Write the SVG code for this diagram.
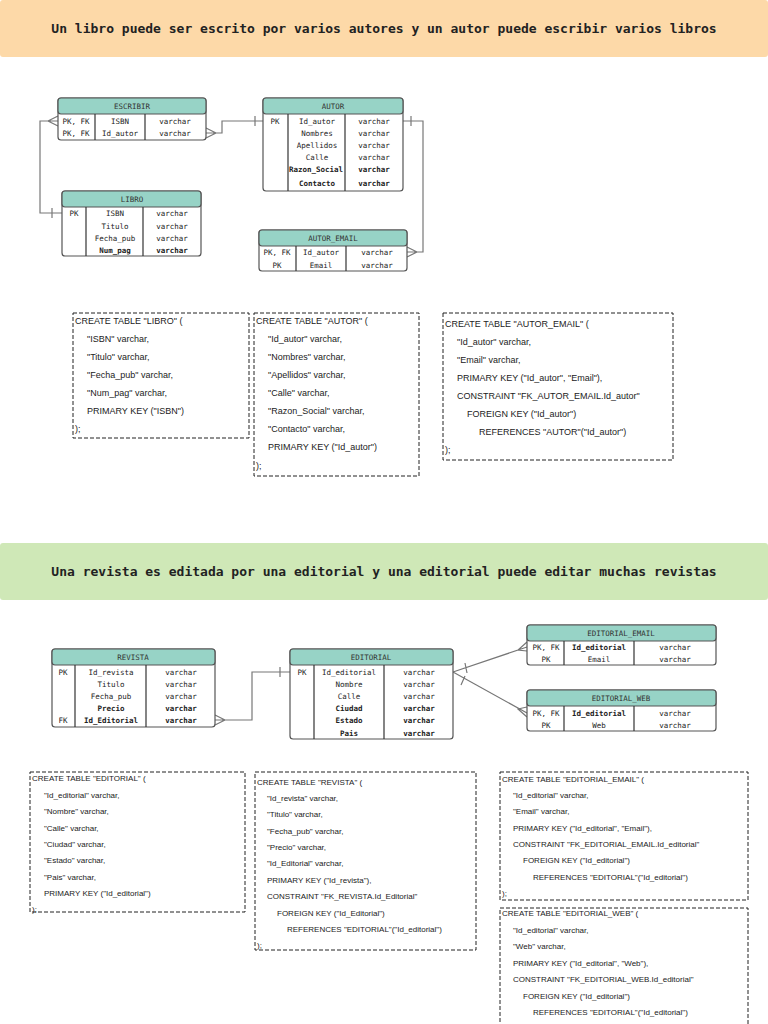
<svg xmlns="http://www.w3.org/2000/svg" width="768" height="1024" viewBox="0 0 768 1024">
<style>
.ban{font-family:"DejaVu Sans Mono",monospace;font-weight:bold;font-size:13px;fill:#222;text-anchor:middle}
.box{fill:#fff;stroke:#555;stroke-width:1.2}
.hd{fill:#97d3c6;stroke:#555;stroke-width:1.2}
.dv{stroke:#333;stroke-width:1.2}
.ht{font-family:"DejaVu Sans Mono",monospace;font-size:7.5px;fill:#333;text-anchor:middle}
.t{font-family:"DejaVu Sans Mono",monospace;font-size:7.5px;fill:#222;text-anchor:middle}
.b{font-weight:bold}
.code{fill:#fff;stroke:#222;stroke-width:1;stroke-dasharray:4 2}
.c{font-family:"Liberation Sans",Arial,sans-serif;font-size:9px;fill:#222}
.c2{font-family:"Liberation Sans",Arial,sans-serif;font-size:8px;fill:#222}
.ln{fill:none;stroke:#777;stroke-width:1.2}
</style>
<rect width="768" height="1024" fill="#fff"/>
<rect x="0" y="0" width="768" height="57" rx="3" fill="#fdd9a8"/>
<text class="ban" x="384" y="33">Un libro puede ser escrito por varios autores y un autor puede escribir varios libros</text>
<rect x="0" y="543" width="768" height="57" rx="3" fill="#cfe8b7"/>
<text class="ban" x="384" y="576">Una revista es editada por una editorial y una editorial puede editar muchas revistas</text>

<g id="connectors">
<path class="ln" d="M206,133 H222 V121 H263 M255,116 V126 M206,128 L216,133 L206,138"/>
<path class="ln" d="M62,213 H40 V121 H58 M52,208 V218 M58,116 L48,121 L58,126"/>
<path class="ln" d="M403,121 H423 V252 H407 M411,116 V126 M407,247 L417,252 L407,257"/>
<path class="ln" d="M215,720 H252 V672 H290 M280,667 V677 M215,715 L225,720 L215,725"/>
<path class="ln" d="M453,672 L527,647 M453,672 L527,713 M465,663 L467,673 M465,676 L461,685 M527,642 L518,650 L527,651 M527,707 L518,709 L527,717"/>
</g>

<g id="escribir">
<rect class="box" x="58" y="98" width="148" height="42" rx="3"/>
<rect class="hd" x="58" y="98" width="148" height="16" rx="3"/>
<line class="dv" x1="95" y1="114" x2="95" y2="140"/><line class="dv" x1="145" y1="114" x2="145" y2="140" stroke="#888"/>
<text class="ht" x="132" y="109">ESCRIBIR</text>
<text class="t" x="76" y="124">PK, FK</text><text class="t" x="120" y="124">ISBN</text><text class="t" x="175" y="124">varchar</text>
<text class="t" x="76" y="136">PK, FK</text><text class="t" x="120" y="136">Id_autor</text><text class="t" x="175" y="136">varchar</text>
</g>
<g id="autor">
<rect class="box" x="263" y="98" width="140" height="93" rx="3"/>
<rect class="hd" x="263" y="98" width="140" height="16" rx="3"/>
<line class="dv" x1="288" y1="114" x2="288" y2="191"/><line class="dv" x1="345" y1="114" x2="345" y2="191"/>
<text class="ht" x="333" y="109">AUTOR</text>
<text class="t" x="275" y="124">PK</text>
<text class="t" x="317" y="124">Id_autor</text><text class="t" x="374" y="124">varchar</text>
<text class="t" x="317" y="136">Nombres</text><text class="t" x="374" y="136">varchar</text>
<text class="t" x="317" y="148">Apellidos</text><text class="t" x="374" y="148">varchar</text>
<text class="t" x="317" y="160">Calle</text><text class="t" x="374" y="160">varchar</text>
<text class="t b" x="316" y="172" font-family="Liberation Sans,sans-serif">Razon_Social</text><text class="t b" x="374" y="172">varchar</text>
<text class="t b" x="317" y="186" font-family="Liberation Sans,sans-serif">Contacto</text><text class="t b" x="374" y="186">varchar</text>
</g>
<g id="libro">
<rect class="box" x="62" y="191" width="139" height="65" rx="3"/>
<rect class="hd" x="62" y="191" width="139" height="16" rx="3"/>
<line class="dv" x1="86" y1="207" x2="86" y2="256"/><line class="dv" x1="143" y1="207" x2="143" y2="256"/>
<text class="ht" x="132" y="202">LIBRO</text>
<text class="t" x="74" y="216">PK</text>
<text class="t" x="115" y="216">ISBN</text><text class="t" x="172" y="216">varchar</text>
<text class="t" x="115" y="229">Titulo</text><text class="t" x="172" y="229">varchar</text>
<text class="t" x="115" y="241">Fecha_pub</text><text class="t" x="172" y="241">varchar</text>
<text class="t b" x="115" y="253">Num_pag</text><text class="t b" x="172" y="253">varchar</text>
</g>
<g id="autor_email">
<rect class="box" x="259" y="230" width="148" height="41" rx="3"/>
<rect class="hd" x="259" y="230" width="148" height="16" rx="3"/>
<line class="dv" x1="296" y1="246" x2="296" y2="271"/><line class="dv" x1="346" y1="246" x2="346" y2="271"/>
<text class="ht" x="333" y="241">AUTOR_EMAIL</text>
<text class="t" x="277" y="255">PK, FK</text><text class="t" x="321" y="255">Id_autor</text><text class="t" x="377" y="255">varchar</text>
<text class="t" x="277" y="268">PK</text><text class="t" x="321" y="268">Email</text><text class="t" x="377" y="268">varchar</text>
</g>

<g id="sql_libro">
<rect class="code" x="73" y="313" width="176" height="125"/>
<text class="c" x="75" y="324">CREATE TABLE "LIBRO" (</text>
<text class="c" x="87" y="342">"ISBN" varchar,</text>
<text class="c" x="87" y="360">"Titulo" varchar,</text>
<text class="c" x="87" y="378">"Fecha_pub" varchar,</text>
<text class="c" x="87" y="396">"Num_pag" varchar,</text>
<text class="c" x="87" y="414">PRIMARY KEY ("ISBN")</text>
<text class="c" x="75" y="432">);</text>
</g>
<g id="sql_autor">
<rect class="code" x="254" y="313" width="165" height="163"/>
<text class="c" x="256" y="324">CREATE TABLE "AUTOR" (</text>
<text class="c" x="268" y="342">"Id_autor" varchar,</text>
<text class="c" x="268" y="360">"Nombres" varchar,</text>
<text class="c" x="268" y="378">"Apellidos" varchar,</text>
<text class="c" x="268" y="396">"Calle" varchar,</text>
<text class="c" x="268" y="414">"Razon_Social" varchar,</text>
<text class="c" x="268" y="432">"Contacto" varchar,</text>
<text class="c" x="268" y="450">PRIMARY KEY ("Id_autor")</text>
<text class="c" x="256" y="469">);</text>
</g>
<g id="sql_autor_email">
<rect class="code" x="443" y="313" width="230" height="147"/>
<text class="c" x="445" y="327">CREATE TABLE "AUTOR_EMAIL" (</text>
<text class="c" x="457" y="345">"Id_autor" varchar,</text>
<text class="c" x="457" y="363">"Email" varchar,</text>
<text class="c" x="457" y="381">PRIMARY KEY ("Id_autor", "Email"),</text>
<text class="c" x="457" y="399">CONSTRAINT "FK_AUTOR_EMAIL.Id_autor"</text>
<text class="c" x="467" y="417">FOREIGN KEY ("Id_autor")</text>
<text class="c" x="479" y="435">REFERENCES "AUTOR"("Id_autor")</text>
<text class="c" x="445" y="453">);</text>
</g>

<g id="revista">
<rect class="box" x="52" y="649" width="163" height="78" rx="3"/>
<rect class="hd" x="52" y="649" width="163" height="16" rx="3"/>
<line class="dv" x1="75" y1="665" x2="75" y2="727"/><line class="dv" x1="146" y1="665" x2="146" y2="727"/>
<text class="ht" x="133" y="660">REVISTA</text>
<text class="t" x="63" y="675">PK</text><text class="t" x="111" y="675">Id_revista</text><text class="t" x="181" y="675">varchar</text>
<text class="t" x="111" y="687">Titulo</text><text class="t" x="181" y="687">varchar</text>
<text class="t" x="111" y="699">Fecha_pub</text><text class="t" x="181" y="699">varchar</text>
<text class="t b" x="111" y="711" font-size="7">Precio</text><text class="t b" x="181" y="711" font-size="7">varchar</text>
<text class="t" x="63" y="723">FK</text><text class="t b" x="111" y="723">Id_Editorial</text><text class="t b" x="181" y="723">varchar</text>
</g>
<g id="editorial">
<rect class="box" x="290" y="649" width="163" height="90" rx="3"/>
<rect class="hd" x="290" y="649" width="163" height="16" rx="3"/>
<line class="dv" x1="314" y1="665" x2="314" y2="739"/><line class="dv" x1="384" y1="665" x2="384" y2="739"/>
<text class="ht" x="371" y="660">EDITORIAL</text>
<text class="t" x="302" y="675">PK</text><text class="t" x="349" y="675">Id_editorial</text><text class="t" x="419" y="675">varchar</text>
<text class="t" x="349" y="687">Nombre</text><text class="t" x="419" y="687">varchar</text>
<text class="t" x="349" y="699">Calle</text><text class="t" x="419" y="699">varchar</text>
<text class="t b" x="349" y="711" font-size="7">Ciudad</text><text class="t b" x="419" y="711" font-size="7">varchar</text>
<text class="t b" x="349" y="723">Estado</text><text class="t b" x="419" y="723">varchar</text>
<text class="t b" x="349" y="736">Pais</text><text class="t b" x="419" y="736">varchar</text>
</g>
<g id="editorial_email">
<rect class="box" x="527" y="625" width="189" height="40" rx="3"/>
<rect class="hd" x="527" y="625" width="189" height="16" rx="3"/>
<line class="dv" x1="564" y1="641" x2="564" y2="665"/><line class="dv" x1="634" y1="641" x2="634" y2="665"/>
<text class="ht" x="621" y="636">EDITORIAL_EMAIL</text>
<text class="t" x="546" y="650">PK, FK</text><text class="t b" x="599" y="650">Id_editorial</text><text class="t" x="675" y="650">varchar</text>
<text class="t" x="546" y="662">PK</text><text class="t" x="599" y="662">Email</text><text class="t" x="675" y="662">varchar</text>
</g>
<g id="editorial_web">
<rect class="box" x="527" y="690" width="189" height="41" rx="3"/>
<rect class="hd" x="527" y="690" width="189" height="16" rx="3"/>
<line class="dv" x1="564" y1="706" x2="564" y2="731"/><line class="dv" x1="634" y1="706" x2="634" y2="731"/>
<text class="ht" x="621" y="701">EDITORIAL_WEB</text>
<text class="t" x="546" y="716">PK, FK</text><text class="t b" x="599" y="716">Id_editorial</text><text class="t" x="675" y="716">varchar</text>
<text class="t" x="546" y="728">PK</text><text class="t" x="599" y="728">Web</text><text class="t" x="675" y="728">varchar</text>
</g>

<g id="sql_editorial">
<rect class="code" x="30" y="772" width="215" height="140"/>
<text class="c2" x="32" y="781">CREATE TABLE "EDITORIAL" (</text>
<text class="c2" x="44" y="798">"Id_editorial" varchar,</text>
<text class="c2" x="44" y="814">"Nombre" varchar,</text>
<text class="c2" x="44" y="831">"Calle" varchar,</text>
<text class="c2" x="44" y="847">"Ciudad" varchar,</text>
<text class="c2" x="44" y="863">"Estado" varchar,</text>
<text class="c2" x="44" y="880">"Pais" varchar,</text>
<text class="c2" x="44" y="896">PRIMARY KEY ("Id_editorial")</text>
<text class="c2" x="32" y="912">);</text>
</g>
<g id="sql_revista">
<rect class="code" x="255" y="772" width="221" height="178"/>
<text class="c2" x="257" y="785">CREATE TABLE "REVISTA" (</text>
<text class="c2" x="267" y="801">"Id_revista" varchar,</text>
<text class="c2" x="267" y="817">"Titulo" varchar,</text>
<text class="c2" x="267" y="834">"Fecha_pub" varchar,</text>
<text class="c2" x="267" y="850">"Precio" varchar,</text>
<text class="c2" x="267" y="866">"Id_Editorial" varchar,</text>
<text class="c2" x="267" y="883">PRIMARY KEY ("Id_revista"),</text>
<text class="c2" x="267" y="899">CONSTRAINT "FK_REVISTA.Id_Editorial"</text>
<text class="c2" x="277" y="916">FOREIGN KEY ("Id_Editorial")</text>
<text class="c2" x="287" y="932">REFERENCES "EDITORIAL"("Id_editorial")</text>
<text class="c2" x="257" y="948">);</text>
</g>
<g id="sql_editorial_email">
<rect class="code" x="500" y="772" width="248" height="128"/>
<text class="c2" x="502" y="782">CREATE TABLE "EDITORIAL_EMAIL" (</text>
<text class="c2" x="513" y="798">"Id_editorial" varchar,</text>
<text class="c2" x="513" y="814">"Email" varchar,</text>
<text class="c2" x="513" y="831">PRIMARY KEY ("Id_editorial", "Email"),</text>
<text class="c2" x="513" y="847">CONSTRAINT "FK_EDITORIAL_EMAIL.Id_editorial"</text>
<text class="c2" x="523" y="863">FOREIGN KEY ("Id_editorial")</text>
<text class="c2" x="533" y="880">REFERENCES "EDITORIAL"("Id_editorial")</text>
<text class="c2" x="502" y="896">);</text>
</g>
<g id="sql_editorial_web">
<rect class="code" x="500" y="908" width="248" height="130"/>
<text class="c2" x="502" y="916">CREATE TABLE "EDITORIAL_WEB" (</text>
<text class="c2" x="513" y="933">"Id_editorial" varchar,</text>
<text class="c2" x="513" y="949">"Web" varchar,</text>
<text class="c2" x="513" y="966">PRIMARY KEY ("Id_editorial", "Web"),</text>
<text class="c2" x="513" y="982">CONSTRAINT "FK_EDITORIAL_WEB.Id_editorial"</text>
<text class="c2" x="523" y="999">FOREIGN KEY ("Id_editorial")</text>
<text class="c2" x="533" y="1015">REFERENCES "EDITORIAL"("Id_editorial")</text>
</g>
</svg>
